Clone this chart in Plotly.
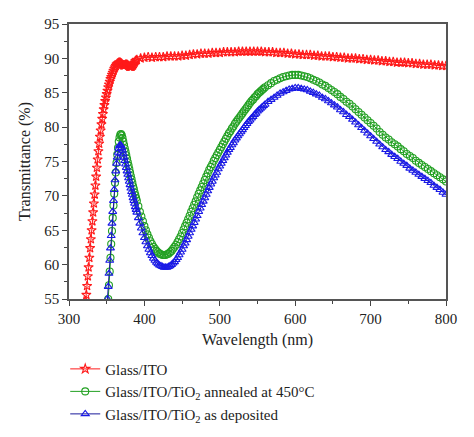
import plotly.graph_objects as go

# ---- data ----
red_wl = list(range(322, 391)) + list(range(395, 801, 5))
red_t = [54.7, 55.6, 56.9, 58.3, 59.6, 61.0, 62.4, 63.7, 65.0, 66.3,
         67.6, 68.9, 70.2, 71.5, 72.8, 74.1, 75.3, 76.5, 77.6, 78.6,
         79.5, 80.4, 81.2, 81.9, 82.6, 83.2, 83.8, 84.3, 84.8, 85.3,
         85.8, 86.2, 86.6, 87.0, 87.3, 87.6, 87.9, 88.2, 88.5, 88.7,
         88.9, 89.1, 89.2, 89.3, 89.4, 89.4, 89.4, 89.3, 89.2, 89.1,
         89.0, 89.0, 89.0, 89.1, 89.1, 89.1, 89.0, 88.9, 88.8, 88.8,
         88.8, 88.8, 88.9, 89.0, 89.2, 89.4, 89.6, 89.7, 89.8,
         90.0, 90.1, 90.2, 90.1, 90.2, 90.2, 90.2, 90.3, 90.3, 90.3,
         90.3, 90.4, 90.4, 90.5, 90.6, 90.6, 90.7, 90.7, 90.7, 90.8,
         90.8, 90.8, 90.9, 90.9, 90.9, 90.9, 91.0, 91.0, 91.0, 91.0,
         91.0, 91.0, 91.0, 90.9, 90.9, 90.9, 90.8, 90.8, 90.8, 90.7,
         90.7, 90.6, 90.6, 90.5, 90.5, 90.5, 90.4, 90.4, 90.3, 90.3,
         90.3, 90.2, 90.2, 90.1, 90.1, 90.0, 90.0, 90.0, 89.9, 89.9,
         89.8, 89.8, 89.7, 89.7, 89.6, 89.6, 89.5, 89.5, 89.4, 89.4,
         89.4, 89.3, 89.3, 89.2, 89.2, 89.1, 89.1, 89.1, 89.0, 89.0,
         88.9, 88.9]

green_wl = list(range(352, 391)) + list(range(392, 561, 2)) + list(range(564, 801, 4))
green_t = [55.0, 57.0, 59.0, 61.0, 63.0, 64.9, 66.8, 68.6, 70.3, 71.9,
           73.4, 74.8, 76.0, 77.0, 77.9, 78.5, 78.9, 79.0, 78.8, 78.4,
           77.9, 77.4, 76.9, 76.4, 75.9, 75.4, 74.9, 74.4, 73.9, 73.4,
           72.9, 72.4, 71.9, 71.4, 71.0, 70.5, 70.1, 69.7, 69.3,
           68.5, 67.7, 67.0, 66.3, 65.6, 65.0, 64.4, 63.9, 63.4, 63.0,
           62.6, 62.3, 62.0, 61.8, 61.6, 61.5, 61.4, 61.4, 61.4, 61.5,
           61.6, 61.8, 62.0, 62.3, 62.6, 62.9, 63.3, 63.7, 64.1, 64.6,
           65.1, 65.6, 66.1, 66.6, 67.1, 67.7, 68.2, 68.7, 69.2, 69.8,
           70.3, 70.8, 71.3, 71.8, 72.3, 72.8, 73.3, 73.8, 74.2, 74.6,
           75.1, 75.5, 75.9, 76.3, 76.7, 77.1, 77.5, 77.9, 78.3, 78.7,
           79.1, 79.4, 79.8, 80.1, 80.5, 80.8, 81.1, 81.4, 81.7, 82.0,
           82.3, 82.6, 82.9, 83.2, 83.5, 83.8, 84.0, 84.3, 84.5, 84.8,
           85.0, 85.2, 85.4, 85.6, 85.8,
           86.1, 86.4, 86.7, 86.9, 87.1, 87.3, 87.4, 87.5, 87.6, 87.6,
           87.6, 87.5, 87.4, 87.3, 87.1, 86.9, 86.7, 86.5, 86.2, 86.0,
           85.7, 85.4, 85.1, 84.8, 84.4, 84.1, 83.7, 83.4, 83.0, 82.6,
           82.2, 81.8, 81.4, 81.0, 80.6, 80.2, 79.8, 79.3, 78.9, 78.5,
           78.2, 77.8, 77.5, 77.2, 76.8, 76.5, 76.1, 75.8, 75.5, 75.1,
           74.8, 74.5, 74.2, 73.9, 73.6, 73.3, 73.0, 72.7, 72.4, 72.1]

blue_wl = list(range(351, 391)) + list(range(392, 561, 2)) + list(range(564, 801, 4))
blue_t = [55.0, 56.8, 58.7, 60.6, 62.4, 64.2, 66.0, 67.7, 69.3, 70.9,
          72.3, 73.6, 74.7, 75.6, 76.3, 76.9, 77.3, 77.4, 77.3, 77.0,
          76.6, 76.1, 75.6, 75.1, 74.6, 74.1, 73.6, 73.1, 72.6, 72.1,
          71.6, 71.1, 70.6, 70.2, 69.7, 69.3, 68.9, 68.4, 68.0, 67.6,
          66.8, 66.0, 65.3, 64.6, 63.9, 63.3, 62.7, 62.2, 61.7, 61.3,
          60.9, 60.6, 60.3, 60.1, 59.9, 59.8, 59.7, 59.6, 59.6, 59.6,
          59.7, 59.8, 60.0, 60.2, 60.4, 60.7, 61.0, 61.4, 61.8, 62.2,
          62.7, 63.1, 63.6, 64.1, 64.6, 65.1, 65.6, 66.1, 66.6, 67.1,
          67.7, 68.2, 68.7, 69.2, 69.7, 70.2, 70.7, 71.2, 71.7, 72.1,
          72.6, 73.0, 73.4, 73.9, 74.3, 74.7, 75.1, 75.5, 75.9, 76.3,
          76.7, 77.0, 77.4, 77.7, 78.1, 78.4, 78.7, 79.0, 79.3, 79.6,
          79.9, 80.2, 80.5, 80.8, 81.0, 81.3, 81.5, 81.8, 82.0, 82.3,
          82.5, 82.7, 82.9, 83.1, 83.3,
          83.7, 84.0, 84.3, 84.6, 84.9, 85.1, 85.3, 85.5, 85.6, 85.7,
          85.7, 85.6, 85.5, 85.4, 85.2, 85.0, 84.8, 84.6, 84.3, 84.1,
          83.8, 83.5, 83.2, 82.9, 82.5, 82.2, 81.8, 81.5, 81.1, 80.7,
          80.3, 79.9, 79.5, 79.1, 78.7, 78.3, 77.9, 77.5, 77.1, 76.7,
          76.4, 76.0, 75.7, 75.4, 75.0, 74.7, 74.4, 74.0, 73.7, 73.4,
          73.1, 72.8, 72.5, 72.2, 71.9, 71.5, 71.2, 70.9, 70.5, 70.2]

names = ["Glass/ITO",
         "Glass/ITO/TiO<sub>2</sub> annealed at 450°C",
         "Glass/ITO/TiO<sub>2</sub> as deposited"]
colors = ["#ff1a1a", "#22a022", "#1a1ae6"]
line_colors = ["#ff1a1a", "#22a022", "#1a1a9a"]
symbols = ["star-open", "circle-open", "triangle-up-open"]

x_ticks = [300, 400, 500, 600, 700, 800]
y_ticks = [55, 60, 65, 70, 75, 80, 85, 90, 95]

FONT = "Liberation Serif"

fig = go.Figure()
for wl, t, nm, c, lc, sym in zip([red_wl, green_wl, blue_wl],
                                 [red_t, green_t, blue_t],
                                 names, colors, line_colors, symbols):
    fig.add_trace(go.Scatter(
        x=wl, y=t, name=nm, mode="lines+markers",
        line=dict(color=lc, width=1),
        marker=dict(symbol=sym, size=7, color=c, line=dict(width=1.1, color=c)),
    ))

axis_common = dict(
    showline=True, linecolor="#555555", linewidth=1.5, mirror=True,
    ticks="outside", ticklen=5, tickwidth=1, tickcolor="#444444",
    showgrid=False, zeroline=False, automargin=False,
    tickfont=dict(family=FONT, size=15, color="#222222"),
)

fig.update_xaxes(range=[300, 800], tickvals=x_ticks,
                 minor=dict(dtick=50, ticks="outside", ticklen=3, tickcolor="#444444"),
                 title=dict(text="Wavelength (nm)", font=dict(family=FONT, size=16, color="#222222"),
                            standoff=8),
                 **axis_common)
fig.update_yaxes(range=[55, 95], tickvals=y_ticks,
                 minor=dict(dtick=2.5, ticks="outside", ticklen=3, tickcolor="#444444"),
                 title=dict(text="Transmittance (%)", font=dict(family=FONT, size=16, color="#222222"),
                            standoff=10),
                 **axis_common)

fig.update_layout(
    width=474, height=437,
    margin=dict(l=69, r=28, t=24, b=138, autoexpand=False),
    paper_bgcolor="white", plot_bgcolor="white",
    font=dict(family=FONT, size=15, color="#222222"),
    legend=dict(x=-0.01, y=-0.195, xanchor="left", yanchor="top",
                font=dict(family=FONT, size=15, color="#222222"),
                tracegroupgap=0, itemwidth=30, bgcolor="rgba(0,0,0,0)"),
    showlegend=True,
)

fig.write_html("out.html")
